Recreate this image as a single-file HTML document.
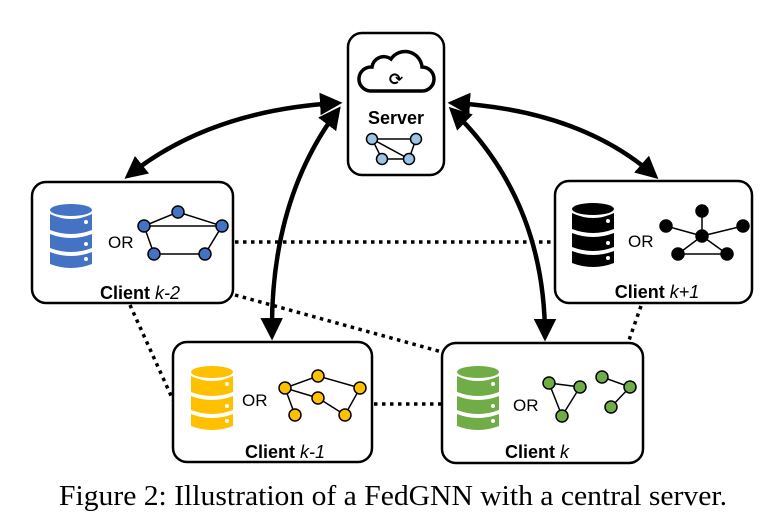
<!DOCTYPE html>
<html><head><style>body{margin:0;background:#fff}svg{display:block}</style></head><body>
<svg width="770" height="525" viewBox="0 0 770 525" xmlns="http://www.w3.org/2000/svg">
<defs>
<marker id="ah" viewBox="0 0 10 10" refX="8" refY="5" markerWidth="5" markerHeight="5" orient="auto-start-reverse"><path d="M0,0L10,5L0,10z" fill="#000"/></marker>
<g id="db">
<ellipse cx="21" cy="6" rx="21" ry="6"/>
<path d="M0,10 Q21,20 42,10 V26 Q21,34 0,26Z"/>
<path d="M0,30 Q21,38 42,30 V44 Q21,52 0,44Z"/>
<path d="M0,48 Q21,56 42,48 V60 Q21,68 0,60Z"/>
</g>
</defs>
<g fill="none" stroke="#000" stroke-width="3.5" stroke-dasharray="3.5,4.5">
<line x1="235" y1="242" x2="553" y2="242"/>
<line x1="235" y1="295" x2="442" y2="352"/>
<line x1="130" y1="305" x2="173" y2="400"/>
<line x1="374" y1="404" x2="442" y2="404"/>
<line x1="641" y1="306" x2="628" y2="343"/>
</g>
<g fill="none" stroke="#000" stroke-width="4.5" marker-start="url(#ah)" marker-end="url(#ah)">
<path d="M338,103 Q210,110 128,176"/>
<path d="M338,110 Q270,200 272,336"/>
<path d="M452,103 Q580,110 655,176"/>
<path d="M452,110 Q545,200 545,337"/>
</g>
<g fill="#fff" stroke="#000" stroke-width="2.5">
<rect x="348" y="33" width="96" height="142" rx="14"/>
<rect x="32" y="182" width="201" height="121" rx="14"/>
<rect x="555" y="181" width="197" height="122" rx="14"/>
<rect x="173" y="342" width="199" height="120" rx="14"/>
<rect x="442" y="343" width="201" height="120" rx="14"/>
</g>
<path d="M370,91 h52 a12,12 0 0 0 0,-24 a17,17 0 0 0 -31,-8 a12,12 0 0 0 -19,8 a12,12 0 0 0 -2,24z" fill="none" stroke="#000" stroke-width="3.5"/>
<text x="396" y="85" font-family="DejaVu Sans,sans-serif" font-size="17" text-anchor="middle" font-weight="bold">⟳</text>
<g font-family="Liberation Sans,sans-serif" font-size="18" text-anchor="middle" font-weight="bold">
<text x="396" y="124">Server</text>
<text x="140" y="299">Client <tspan font-style="italic" font-weight="normal">k-2</tspan></text>
<text x="657" y="298">Client <tspan font-style="italic" font-weight="normal">k+1</tspan></text>
<text x="285" y="458">Client <tspan font-style="italic" font-weight="normal">k-1</tspan></text>
<text x="537" y="458">Client <tspan font-style="italic" font-weight="normal">k</tspan></text>
</g>
<g font-family="Liberation Sans,sans-serif" font-size="17">
<text x="108" y="248">OR</text>
<text x="628" y="247">OR</text>
<text x="242" y="406">OR</text>
<text x="513" y="411">OR</text>
</g>
<use href="#db" x="50" y="204" fill="#4472c4"/>
<use href="#db" x="572" y="203" fill="#000"/>
<use href="#db" x="191" y="366" fill="#ffc000"/>
<use href="#db" x="457" y="366" fill="#70ad47"/>
<g fill="#fff"><circle cx="86" cy="222" r="2"/><circle cx="86" cy="244" r="2"/><circle cx="86" cy="259" r="2"/>
<circle cx="608" cy="221" r="2"/><circle cx="608" cy="243" r="2"/><circle cx="608" cy="258" r="2"/>
<circle cx="227" cy="384" r="2"/><circle cx="227" cy="406" r="2"/><circle cx="227" cy="421" r="2"/>
<circle cx="493" cy="384" r="2"/><circle cx="493" cy="406" r="2"/><circle cx="493" cy="421" r="2"/></g>
<g stroke="#000" stroke-width="1.5">
<path d="M372,139 L416,139 L409,159 L382,159Z M372,139 L409,159" fill="none"/>
<g fill="#9dc3e6"><circle cx="372" cy="139" r="5.5"/><circle cx="416" cy="139" r="5.5"/><circle cx="409" cy="159" r="5.5"/><circle cx="382" cy="159" r="5.5"/></g>
<path d="M144,226 L178,212 L222,226 L205,254 L154,254Z M144,226 L222,226" fill="none"/>
<g fill="#4472c4"><circle cx="144" cy="226" r="6"/><circle cx="178" cy="212" r="6"/><circle cx="222" cy="226" r="6"/><circle cx="154" cy="254" r="6"/><circle cx="205" cy="254" r="6"/></g>
<path d="M702,236 L702,211 M702,236 L666,226 M702,236 L743,226 M702,236 L678,254 M702,236 L727,254 M678,254 L727,254" fill="none"/>
<g fill="#000"><circle cx="702" cy="236" r="6"/><circle cx="702" cy="211" r="6"/><circle cx="666" cy="226" r="6"/><circle cx="743" cy="226" r="6"/><circle cx="678" cy="254" r="6"/><circle cx="727" cy="254" r="6"/></g>
<path d="M285,388 L318,376 L360,388 L345,415 L318,398 L285,388 L295,415" fill="none"/>
<g fill="#ffc000"><circle cx="285" cy="388" r="6"/><circle cx="318" cy="376" r="6"/><circle cx="360" cy="388" r="6"/><circle cx="318" cy="398" r="6"/><circle cx="295" cy="415" r="6"/><circle cx="345" cy="415" r="6"/></g>
<path d="M549,383 L580,387 L562,416Z M602,377 L630,387 L611,407" fill="none"/>
<g fill="#70ad47"><circle cx="549" cy="383" r="6"/><circle cx="580" cy="387" r="6"/><circle cx="562" cy="416" r="6"/><circle cx="602" cy="377" r="6"/><circle cx="630" cy="387" r="6"/><circle cx="611" cy="407" r="6"/></g>
</g>
<text x="393" y="505" font-family="Liberation Serif,serif" font-size="28" text-anchor="middle" textLength="668" lengthAdjust="spacingAndGlyphs">Figure 2: Illustration of a FedGNN with a central server.</text>
</svg>
</body></html>
